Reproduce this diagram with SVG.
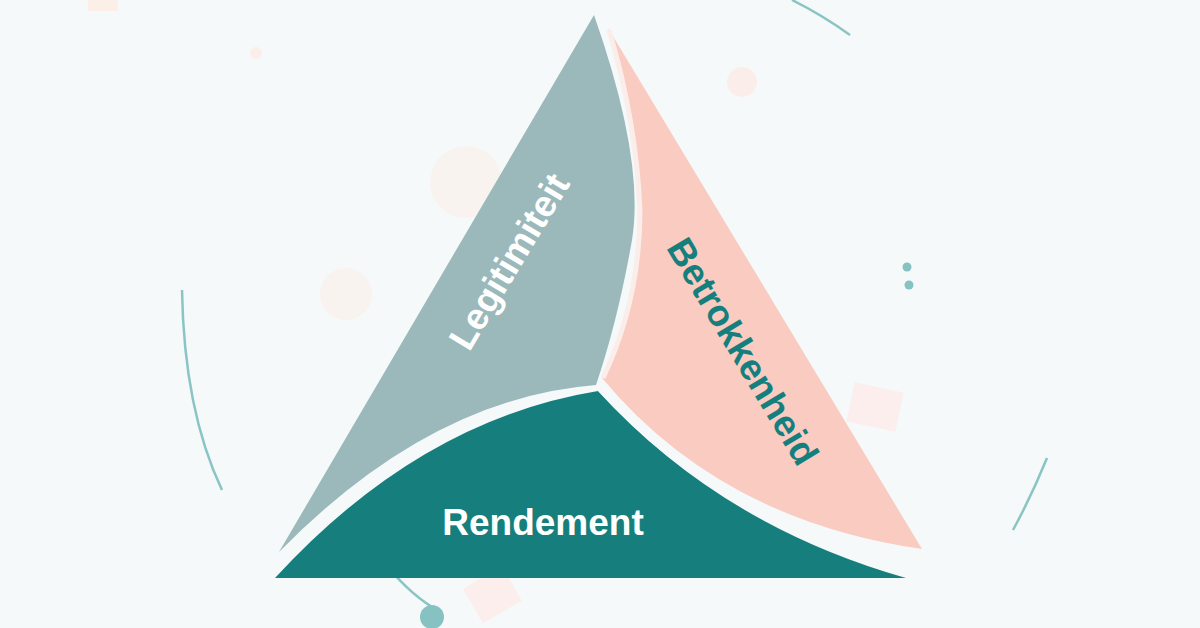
<svg xmlns="http://www.w3.org/2000/svg" width="1200" height="628" viewBox="0 0 1200 628">
<style>
.lbl{font-family:"Liberation Sans",Arial,sans-serif;font-weight:bold;font-size:37px}
.deco{fill:none;stroke:#8ac4c4;stroke-width:2.5}
.pale{fill:#fbeeea}
</style>
<rect width="1200" height="628" fill="#f5f9fa"/>
<g id="background">
<rect x="88" y="0" width="30" height="11" fill="#fbefe8"/>
<circle class="pale" cx="256" cy="53" r="6"/>
<circle class="pale" cx="742" cy="82" r="15"/>
<circle class="pale" cx="466" cy="182" r="36" opacity="0.6"/>
<circle class="pale" cx="346" cy="294" r="26" opacity="0.6"/>
<rect x="850" y="387" width="50" height="40" fill="#fbeeec" transform="rotate(12 875 407)"/>
<rect x="470" y="575" width="45" height="40" fill="#fbeeec" transform="rotate(-30 492 595)"/>
<path class="deco" d="M182 290 Q184 410 222 490"/>
<path class="deco" d="M792 0 Q822 15 850 35"/>
<path class="deco" d="M1047 458 Q1032 495 1013 530"/>
<path class="deco" d="M380 557 Q405 590 432 607"/>
<circle cx="432" cy="617" r="12" fill="#86c2c2"/>
<circle cx="907" cy="267" r="4.5" fill="#86c2c2"/>
<circle cx="909" cy="285" r="4.5" fill="#86c2c2"/>
</g>
<g id="legitimiteit">
<path d="M594 15 Q645 160 632 240 Q618 320 596 385 Q430 398 279 552 Z" fill="#9bb9bb"/>
<text class="lbl" fill="#ffffff" text-anchor="middle" transform="translate(520 268) rotate(-59)">Legitimiteit</text>
</g>
<g id="betrokkenheid">
<path d="M608 28 L922 549 Q720 520 602 378 Q640 300 640 210 Q636 120 608 28 Z" fill="#f9cbc1"/>
<path d="M603 378 Q640 300 640 210 Q636 120 609 30" fill="none" stroke="#fbeeea" stroke-width="5"/>
<text class="lbl" fill="#157f7d" text-anchor="middle" transform="translate(732 358) rotate(59)">Betrokkenheid</text>
</g>
<g id="rendement">
<path d="M275 578 Q420 420 598 391 Q720 525 906 578 Z" fill="#167f7d"/>
<path d="M277 572 Q420 417 598 388 Q720 522 910 575" fill="none" stroke="#f5f9fa" stroke-width="4"/>
<text class="lbl" fill="#ffffff" text-anchor="middle" x="543" y="535">Rendement</text>
</g>
<g id="connectors"></g>
</svg>
